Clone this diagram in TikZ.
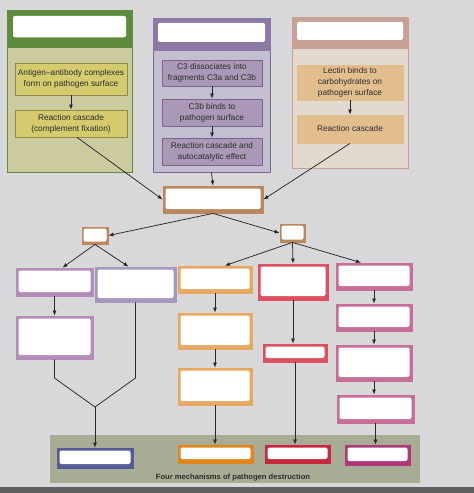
\documentclass[tikz,border=0pt]{standalone}
\usepackage{fontspec}
\setsansfont{Liberation Sans}
\usepackage{xcolor}
\usepackage{tikz}
\usetikzlibrary{positioning, shapes}
\usetikzlibrary{arrows.meta}

\definecolor{pagegray}{RGB}{216,216,218}
\definecolor{stripgreen}{RGB}{168,172,148}
\definecolor{edgegray}{RGB}{95,95,98}
\definecolor{linegray}{RGB}{40,40,40}
\definecolor{textgray}{RGB}{45,45,45}
\definecolor{greenhead}{RGB}{94,140,60}
\definecolor{greenbody}{RGB}{204,203,160}
\definecolor{greenbox}{RGB}{212,203,110}
\definecolor{greenline}{RGB}{140,140,70}
\definecolor{purplehead}{RGB}{140,120,165}
\definecolor{purplebody}{RGB}{195,190,208}
\definecolor{purplebox}{RGB}{170,152,182}
\definecolor{purpleline}{RGB}{120,100,140}
\definecolor{orangehead}{RGB}{200,160,148}
\definecolor{orangebody}{RGB}{226,218,206}
\definecolor{orangebox}{RGB}{226,190,142}
\definecolor{tanbox}{RGB}{186,136,92}
\definecolor{mauve}{RGB}{180,140,185}
\definecolor{lavender}{RGB}{165,152,190}
\definecolor{orangeC}{RGB}{232,168,96}
\definecolor{redD}{RGB}{220,80,96}
\definecolor{pinkE}{RGB}{200,110,150}
\definecolor{blueB}{RGB}{88,90,150}
\definecolor{orangeB}{RGB}{226,134,26}
\definecolor{redB}{RGB}{200,40,62}
\definecolor{magentaB}{RGB}{176,56,120}

\begin{document}
\begin{tikzpicture}[x=1pt,y=-1pt]
            \tikzset{edge/.style = {-{Latex[length=5pt,width=4pt]},draw=linegray,line width=0.75pt}}
            \tikzset{plainedge/.style = {draw=linegray,line width=0.75pt}}
            \tikzset{panel/.style = {draw=#1, line width=1pt, inner sep=0pt}}
            \tikzset{txtbox/.style = {line width=0.8pt, inner sep=0pt, align=center, text=textgray, font=\sffamily\fontsize{8.3}{10.8}\selectfont}}
            \tikzset{patch inset/.store in=\patchinset, patch inset=2.5pt}
            \tikzset{wbox/.style = {fill=#1, draw=#1, line width=0.8pt, inner sep=0pt,
                path picture={\fill[white,rounded corners=2pt] ([shift={(\patchinset,-\patchinset)}]path picture bounding box.north west) rectangle ([shift={(-\patchinset,1.6*\patchinset)}]path picture bounding box.south east);}}}

            % page and strip
            \fill[pagegray] (0,0) rectangle (474,493);
            \fill[stripgreen] (50,435) rectangle (420,483);
            \fill[edgegray] (0,487) rectangle (474,493);
            \useasboundingbox (0,0) rectangle (474,493);

            % green panel
            \node[panel=greenhead, fill=greenbody, minimum width=125pt, minimum height=162pt] (gpanel) at (69.5,91) {};
            \node[wbox=greenhead, patch inset=6pt, minimum width=125pt, minimum height=37pt, anchor=north] (ghead) at (gpanel.north) {};
            \node[txtbox, fill=greenbox, draw=greenline, minimum width=112pt, minimum height=32pt] (gbox1) at (71,79) {Antigen--antibody complexes\\form on pathogen surface};
            \node[txtbox, fill=greenbox, draw=greenline, minimum width=112pt, minimum height=27pt] (gbox2) at (71,123.5) {Reaction cascade\\(complement fixation)};
            \draw[edge] (gbox1) -- (gbox2);

            % purple panel
            \node[panel=purpleline, fill=purplebody, minimum width=117pt, minimum height=154pt] (ppanel) at (211.5,95) {};
            \node[wbox=purplehead, patch inset=5pt, minimum width=117pt, minimum height=32pt, anchor=north] (phead) at (ppanel.north) {};
            \node[txtbox, fill=purplebox, draw=purpleline, minimum width=100pt, minimum height=26pt] (pbox1) at (212,73) {C3 dissociates into\\fragments C3a and C3b};
            \node[txtbox, fill=purplebox, draw=purpleline, minimum width=100pt, minimum height=27pt] (pbox2) at (212,112.5) {C3b binds to\\pathogen surface};
            \node[txtbox, fill=purplebox, draw=purpleline, minimum width=100pt, minimum height=27pt] (pbox3) at (212,151.5) {Reaction cascade and\\autocatalytic effect};
            \draw[edge] (pbox1) -- (pbox2);
            \draw[edge] (pbox2) -- (pbox3);

            % orange panel
            \node[panel=orangehead, fill=orangebody, minimum width=116pt, minimum height=151pt] (opanel) at (350,92.5) {};
            \node[wbox=orangehead, patch inset=5pt, minimum width=116pt, minimum height=31pt, anchor=north] (ohead) at (opanel.north) {};
            \node[txtbox, fill=orangebox, draw=orangebox, minimum width=106pt, minimum height=35pt] (obox1) at (350,82.5) {Lectin binds to\\carbohydrates on\\pathogen surface};
            \node[txtbox, fill=orangebox, draw=orangebox, minimum width=106pt, minimum height=28pt] (obox2) at (350,129) {Reaction cascade};
            \draw[edge] (obox1) -- (obox2);

            % common path
            \node[wbox=tanbox, minimum width=100pt, minimum height=27pt] (cbox) at (213,199.5) {};
            \draw[edge] ([xshift=6pt]gbox2.south) -- (cbox.west);
            \draw[edge] (ppanel.south) -- (cbox.north);
            \draw[edge] (obox2.south) -- (cbox.east);

            \node[wbox=tanbox, patch inset=1.5pt, minimum width=26pt, minimum height=17pt] (lbox) at (95,235.5) {};
            \node[wbox=tanbox, patch inset=1.5pt, minimum width=25pt, minimum height=18pt] (rbox) at (292.5,233) {};
            \draw[edge] (cbox.south) -- (lbox.east);
            \draw[edge] (cbox.south) -- (rbox.west);

            % left branch
            \node[wbox=mauve, minimum width=77pt, minimum height=28pt] (A1) at (54.5,282) {};
            \node[wbox=lavender, minimum width=81pt, minimum height=35pt] (A2) at (135.5,284.5) {};
            \node[wbox=mauve, minimum width=77pt, minimum height=43pt] (A3) at (54.5,337.5) {};
            \draw[edge] (lbox.south) -- ([xshift=8pt]A1.north);
            \draw[edge] (lbox.south) -- ([xshift=-7pt]A2.north);
            \draw[edge] (A1) -- (A3);
            \coordinate (bendL) at (54.5,378);
            \coordinate (bendR) at (135.5,378);
            \coordinate (join) at (95,407);
            \draw[plainedge] (A3.south) -- (bendL) -- (join);
            \draw[plainedge] (A2.south) -- (bendR) -- (join);

            % orange column
            \node[wbox=orangeC, minimum width=74pt, minimum height=27pt] (C1) at (215,279.5) {};
            \node[wbox=orangeC, minimum width=74pt, minimum height=36pt] (C2) at (215,331) {};
            \node[wbox=orangeC, minimum width=74pt, minimum height=37pt] (C3) at (215,386.5) {};
            \draw[edge] (C1) -- (C2);
            \draw[edge] (C2) -- (C3);

            % red column
            \node[wbox=redD, minimum width=70pt, minimum height=36pt] (D1) at (293,282) {};
            \node[wbox=redD, minimum width=64pt, minimum height=18pt] (D2) at (295,353) {};
            \draw[edge] (D1.south) -- (D1.south |- D2.north);

            % pink column
            \node[wbox=pinkE, minimum width=76pt, minimum height=27pt] (E1) at (374,276.5) {};
            \node[wbox=pinkE, minimum width=76pt, minimum height=27pt] (E2) at (374,317.5) {};
            \node[wbox=pinkE, minimum width=76pt, minimum height=36pt] (E3) at (374,363) {};
            \node[wbox=pinkE, minimum width=77pt, minimum height=28pt] (E4) at (375.5,409) {};
            \draw[edge] (rbox.south) -- ([xshift=10pt]C1.north);
            \draw[edge] (rbox.south) -- (D1.north);
            \draw[edge] (rbox.south) -- ([xshift=-13pt]E1.north);
            \draw[edge] (E1) -- (E2);
            \draw[edge] (E2) -- (E3);
            \draw[edge] (E3.south) -- (E3.south |- E4.north);

            % four mechanisms
            \node[wbox=blueB, minimum width=76pt, minimum height=20pt] (B1) at (95,458) {};
            \node[wbox=orangeB, minimum width=75pt, minimum height=18pt] (B2) at (215.5,454) {};
            \node[wbox=redB, minimum width=65pt, minimum height=18pt] (B3) at (297.5,454) {};
            \node[wbox=magentaB, minimum width=65pt, minimum height=20pt] (B4) at (377.5,455) {};
            \draw[edge] (join) -- (B1.north);
            \draw[edge] (C3.south) -- (C3.south |- B2.north);
            \draw[edge] (D2.south) -- (D2.south |- B3.north);
            \draw[edge] (E4.south) -- (E4.south |- B4.north);
            \node[text=textgray, font=\sffamily\bfseries\fontsize{7.6}{9}\selectfont] (caption) at (233,477.5) {Four mechanisms of pathogen destruction};

        \end{tikzpicture}
\end{document}
